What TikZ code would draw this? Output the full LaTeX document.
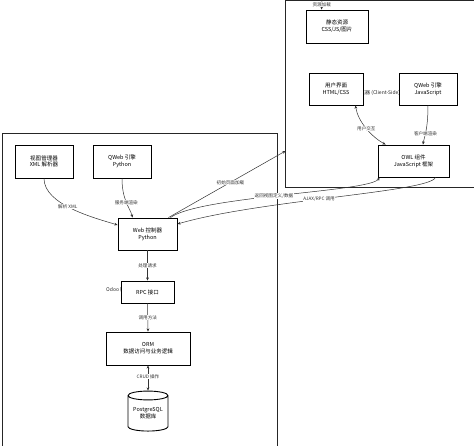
\documentclass[tikz,border=0pt]{standalone}
\usepackage{fontspec}
\setmainfont{Noto Sans CJK SC}
\usetikzlibrary{shapes.geometric,arrows.meta,calc}
\begin{document}
\begin{tikzpicture}[x=1pt,y=-1pt,
  box/.style={draw=black, line width=0.9pt, fill=white, align=center, inner sep=0pt,
    font=\fontsize{5.5}{6.8}\selectfont},
  lbl/.style={fill=white, inner sep=0.5pt, font=\fontsize{4.6}{5.5}\selectfont, text=black!80},
  grp/.style={inner sep=0pt, anchor=west, font=\fontsize{5}{6}\selectfont, text=black!85},
  arr/.style={draw=black!80, line width=0.5pt, -{Stealth[length=3.2pt,width=2.8pt]}},
  darr/.style={draw=black!80, line width=0.5pt, {Stealth[length=3.2pt,width=2.8pt]}-{Stealth[length=3.2pt,width=2.8pt]}},
  frame/.style={draw=black!85, line width=0.8pt}]
\useasboundingbox (0,0) rectangle (474,445);
\fill[white] (0,0) rectangle (474,445);
% frames
\draw[frame] (2,133.5) rectangle (277.5,470);
\draw[frame] (285.5,0.5) rectangle (490,187);
% group labels (partly covered)
\node[grp] (srvlbl) at (106,290) {Odoo 服务器};
\node[grp] (clilbl) at (355,93) {浏览器 (Client-Side)};
% server side
\node[box, minimum width=58pt, minimum height=33pt] (vm) at (44,161.5) {视图管理器\\XML 解析器};
\node[box, minimum width=58pt, minimum height=33pt] (qpy) at (122,161.5) {QWeb 引擎\\Python};
\node[box, minimum width=59pt, minimum height=32pt] (web) at (147.5,234) {Web 控制器\\Python};
\node[box, minimum width=53pt, minimum height=22pt] (rpc) at (147.5,292) {RPC 接口};
\node[box, minimum width=84pt, minimum height=33pt] (orm) at (148,348.5) {ORM\\数据访问与业务逻辑};
\node[box, cylinder, shape border rotate=90, aspect=0.3, minimum width=40pt, minimum height=40pt] (pg) at (148,413.5) {PostgreSQL\\数据库};
% client side
\node[box, minimum width=62pt, minimum height=33pt] (st) at (337,26.5) {静态资源\\CSS/JS/图片};
\node[box, minimum width=54pt, minimum height=32pt] (ui) at (336,89) {用户界面\\HTML/CSS};
\node[box, minimum width=58pt, minimum height=32pt] (qjs) at (428,89) {QWeb 引擎\\JavaScript};
\node[box, minimum width=71pt, minimum height=32pt] (owl) at (413.5,161) {OWL 组件\\JavaScript 框架};
% coordinates
\coordinate (cliedge) at (285.5,151);
\coordinate (topsrc) at (322,-4);
% edges
\draw[arr] (vm.south) .. controls (44,205) and (95,218) .. ($(web.west)+(0,-9)$)
  node[lbl, pos=0.45] {解析 XML};
\draw[arr] (qpy.south) .. controls (122,200) and (130,208) .. ($(web.north west)+(15,0)$)
  node[lbl, pos=0.5] {服务端渲染};
\draw[arr] ($(web.north east)+(-9,0)$) -- (cliedge) node[lbl, pos=0.53] {初始页面加载};
\draw[arr] ($(web.north east)+(-7,0)$) .. controls (200,196) and (370,192) .. ($(owl.south west)+(2,0)$)
  node[lbl, pos=0.47] {返回视图定义/数据};
\draw[arr] ($(owl.south east)+(-14,0)$) .. controls (430,192) and (260,200) .. ($(web.east)+(0,-10)$)
  node[lbl, pos=0.55] {AJAX/RPC 调用};
\draw[arr] (web.south) -- (rpc.north) node[lbl, midway] {处理请求};
\draw[arr] (rpc.south) -- (orm.north) node[lbl, midway] {调用方法};
\draw[darr] (orm.south) -- (pg.top) node[lbl, pos=0.45] {CRUD 操作};
\draw[darr] ($(ui.south east)+(-8,0)$) .. controls (358,122) and (372,137) .. ($(owl.north west)+(8,0)$)
  node[lbl, pos=0.5] {用户交互};
\draw[arr] (qjs.south) .. controls (428,130) and (424,138) .. ($(owl.north)+(9.5,0)$)
  node[lbl, pos=0.55] {客户端渲染};
\draw[arr] (topsrc) -- ($(st.north west)+(16,0)$) node[lbl, pos=0.62] {资源加载};
\end{tikzpicture}
\end{document}
